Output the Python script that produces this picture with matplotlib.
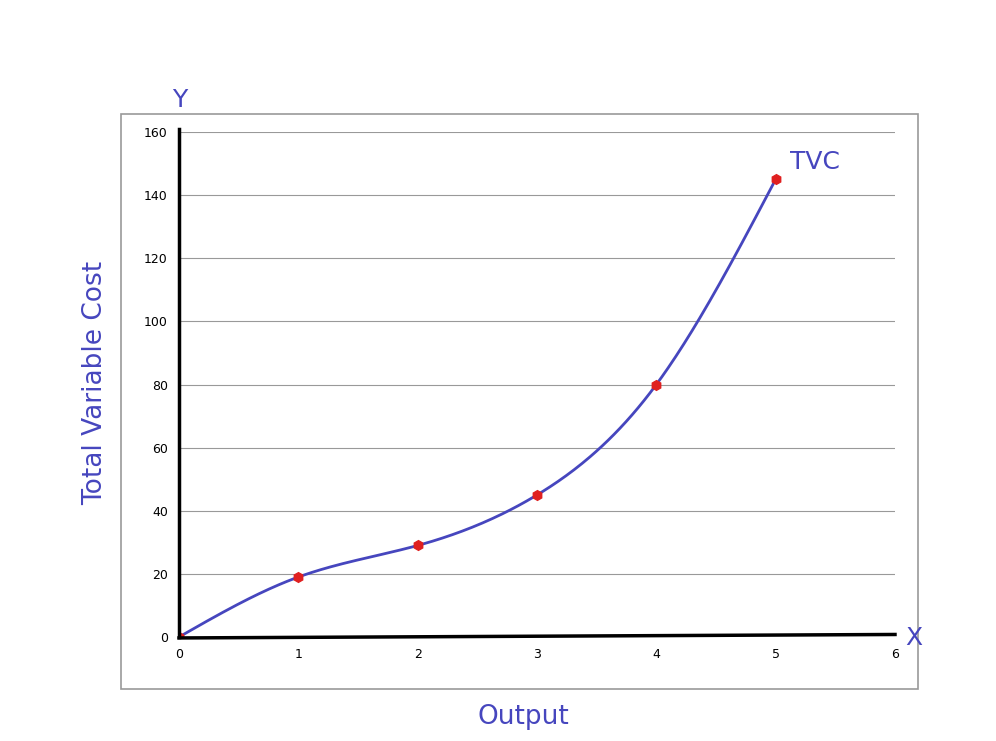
import numpy as np
import matplotlib
matplotlib.use("Agg")
import matplotlib.pyplot as plt
from matplotlib.patches import Rectangle

output = [0, 1, 2, 3, 4, 5]
tvc = [0, 19, 29, 45, 80, 145]
xticks = [0, 1, 2, 3, 4, 5, 6]
yticks = [0, 20, 40, 60, 80, 100, 120, 140, 160]

def natural_spline(x, y, n=300):
    x = np.asarray(x, float); y = np.asarray(y, float)
    k = len(x); h = np.diff(x)
    A = np.zeros((k, k)); b = np.zeros(k)
    A[0, 0] = A[-1, -1] = 1
    for i in range(1, k - 1):
        A[i, i-1] = h[i-1]; A[i, i] = 2*(h[i-1]+h[i]); A[i, i+1] = h[i]
        b[i] = 3*((y[i+1]-y[i])/h[i] - (y[i]-y[i-1])/h[i-1])
    c = np.linalg.solve(A, b)
    xs = np.linspace(x[0], x[-1], n); ys = np.empty_like(xs)
    for j, t in enumerate(xs):
        i = min(np.searchsorted(x, t, side='right') - 1, k - 2)
        d = t - x[i]
        bb = (y[i+1]-y[i])/h[i] - h[i]*(2*c[i]+c[i+1])/3
        dd = (c[i+1]-c[i])/(3*h[i])
        ys[j] = y[i] + bb*d + c[i]*d**2 + dd*d**3
    return xs, ys

blue = "#4646BE"
fig = plt.figure(figsize=(9.96, 7.41), dpi=100)
fig.patches.append(Rectangle((121/996, 1-689/741), 797/996, 575/741,
                             transform=fig.transFigure, fill=False, edgecolor="#999999", lw=1.2))
ax = fig.add_axes([179/996, 1-637/741, 716/996, 505/741])
ax.set_xlim(0, 6); ax.set_ylim(0, 160)
ax.set_xticks(xticks); ax.set_yticks(yticks)
ax.yaxis.grid(True, color="#999999", lw=0.8)
ax.set_axisbelow(True)
for s in ax.spines.values():
    s.set_visible(False)
ax.tick_params(length=0, labelsize=9, pad=8)
xs, ys = natural_spline(output, tvc)
ax.plot(xs, ys, color=blue, lw=2)
ax.plot(output, tvc, 'h', color="#E02020", ms=7, ls='none')
ax.plot([0, 0], [0, 161], color="black", lw=2.5, clip_on=False)
ax.plot([0, 6], [-0.3, 0.8], color="black", lw=2.5, clip_on=False)
fig.text(180/996, 1-100/741, "Y", color=blue, fontsize=18, ha="center", va="center")
fig.text(914/996, 1-638/741, "X", color=blue, fontsize=18, ha="center", va="center")
fig.text(815/996, 1-162/741, "TVC", color=blue, fontsize=18, ha="center", va="center")
fig.text(95/996, 1-383/741, "Total Variable Cost", color=blue, fontsize=19, rotation=90, ha="center", va="center")
fig.text(523/996, 1-717/741, "Output", color=blue, fontsize=19, ha="center", va="center")
fig.savefig("out.png", dpi=100)
